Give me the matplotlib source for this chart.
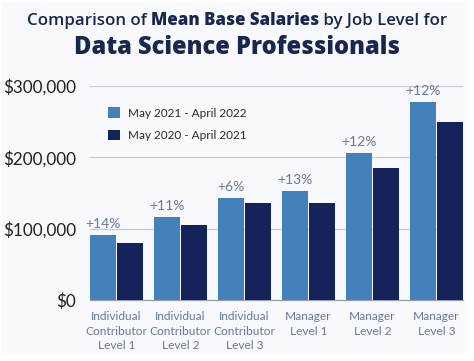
import numpy as np
import matplotlib.pyplot as plt
from matplotlib.patches import Rectangle

categories = ["Individual\nContributor\nLevel 1", "Individual\nContributor\nLevel 2",
              "Individual\nContributor\nLevel 3", "Manager\nLevel 1",
              "Manager\nLevel 2", "Manager\nLevel 3"]
salary_2022 = [91300, 117000, 143500, 153300, 206400, 277800]
salary_2021 = [80100, 105000, 135600, 135600, 184600, 249400]
growth = ["+14%", "+11%", "+6%", "+13%", "+12%", "+12%"]
series_names = ["May 2021 - April 2022", "May 2020 - April 2021"]
yticks = [0, 100000, 200000, 300000]

light = "#4680ba"
dark = "#14245a"
navy = "#1b2650"
label_col = "#6a7897"
bg = "#f7f9fc"

plt.rcParams['font.family'] = ['Lato', 'DejaVu Sans']

fig = plt.figure(figsize=(4.74, 3.61), dpi=100)
fig.patch.set_facecolor("white")
fig.patches.append(Rectangle((0.004, 0.022), 0.977, 0.972, transform=fig.transFigure,
                             facecolor=bg, edgecolor="none", zorder=-1))

ax = fig.add_axes([0.19, 0.168, 0.786, 0.594])
ax.set_facecolor(bg)

x = np.arange(len(categories))
w = 0.4
off = 0.21
ax.bar(x - off, salary_2022, w, color=light, label=series_names[0], zorder=3)
ax.bar(x + off, salary_2021, w, color=dark, label=series_names[1], zorder=3)

for xi, v, g in zip(x, salary_2022, growth):
    ax.text(xi - off, v + 6500, g, ha="center", va="bottom", fontsize=10,
            color=label_col, zorder=4)

ax.set_xlim(-off - w / 2, len(categories) - 1 + off + w / 2)
ax.set_ylim(0, 300000)
ax.set_yticks(yticks)
ax.set_yticklabels([f"${v:,.0f}" for v in yticks], fontsize=12.3, color="#222222")
ax.yaxis.grid(True, color="#c9ccd3", linewidth=0.9, zorder=0)
ax.set_xticks(x)
ax.set_xticklabels(categories, fontsize=8.6, color=label_col, linespacing=1.35)
ax.tick_params(axis="both", length=0)
ax.tick_params(axis="x", pad=8)
ax.tick_params(axis="y", pad=10)
for s in ["top", "right", "left"]:
    ax.spines[s].set_visible(False)
ax.spines["bottom"].set_color("#9a9da6")
ax.spines["bottom"].set_linewidth(0.9)

ax.legend(loc="upper left", bbox_to_anchor=(0.02, 0.95), frameon=False,
          fontsize=8.5, handlelength=1.0, handleheight=1.0, labelspacing=0.95,
          handletextpad=0.7, labelcolor="#2a2a2a")

# title with mixed weights, centred as a whole
tfont = ['Open Sans', 'DejaVu Sans']
fig.canvas.draw()
r = fig.canvas.get_renderer()
parts = [("Comparison of ", "semibold"), ("Mean Base Salaries", "heavy"),
         (" by Job Level for", "semibold")]
texts = [fig.text(0, 0.942, s, fontsize=12.2, fontweight=fw, color=navy,
                  va="center", family=tfont) for s, fw in parts]
widths = [t.get_window_extent(r).width for t in texts]
start = (474 - sum(widths)) / 2
for t, wd in zip(texts, widths):
    t.set_x(start / 474)
    start += wd
fig.text(0.5, 0.868, "Data Science Professionals", ha="center", va="center",
         fontsize=17, fontweight="heavy", color=navy, family=tfont)

fig.savefig("out.png", dpi=100, facecolor=fig.get_facecolor())
